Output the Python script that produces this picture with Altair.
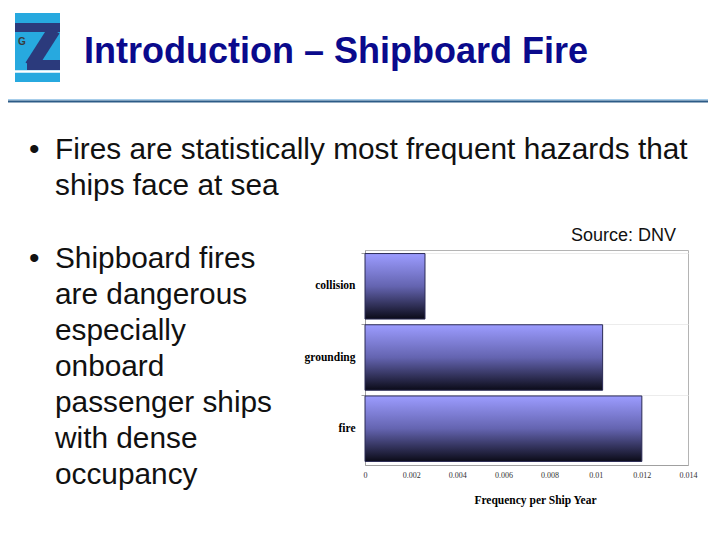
import altair as alt
import pandas as pd

# ---- data ----
categories = ["collision", "grounding", "fire"]
frequency = [0.0026, 0.0103, 0.0120]
x_ticks = [0, 0.002, 0.004, 0.006, 0.008, 0.010, 0.012, 0.014]

title_text = "Introduction \u2013 Shipboard Fire"
bullet1 = ["Fires are statistically most frequent hazards that", "ships face at sea"]
bullet2 = ["Shipboard fires", "are dangerous", "especially", "onboard",
           "passenger ships", "with dense", "occupancy"]
source_text = "Source: DNV"
axis_title = "Frequency per Ship Year"

# ---- layout (page pixels) ----
X0, Y0 = 365, 250          # plot origin on the page
PW, PH = 323, 215          # plot size
SANS = "Liberation Sans"
SERIF = "Liberation Serif"

df = pd.DataFrame({"category": categories, "frequency": frequency})


def px(x):
    return x - X0


def py(y):
    return y - Y0


def one():
    return alt.Data(values=[{"k": 0}])


def text_layer(txt, x, y, size, color="#111111", weight="normal", font=SANS):
    return alt.Chart(alt.Data(values=[{"t": txt}])).mark_text(
        font=font, fontSize=size, fontWeight=weight, color=color,
        align="left", baseline="alphabetic"
    ).encode(x=alt.value(px(x)), y=alt.value(py(y)), text="t:N")


def rect_layer(x1, y1, x2, y2, color):
    return alt.Chart(one()).mark_rect(color=color).encode(
        x=alt.value(px(x1)), x2=alt.value(px(x2)),
        y=alt.value(py(y1)), y2=alt.value(py(y2)))


def rule_layer(x1, y1, x2, y2, color, w):
    return alt.Chart(one()).mark_rule(color=color, strokeWidth=w).encode(
        x=alt.value(px(x1)), x2=alt.value(px(x2)),
        y=alt.value(py(y1)), y2=alt.value(py(y2)))


gradient = alt.Gradient(
    gradient="linear",
    stops=[alt.GradientStop(color="#9c9cff", offset=0),
           alt.GradientStop(color="#6464b0", offset=0.5),
           alt.GradientStop(color="#0b0b18", offset=1)],
    x1=0, x2=0, y1=0, y2=1,
)

bars = alt.Chart(df).mark_bar(fill=gradient, stroke="#2a2a55", strokeWidth=1).encode(
    x=alt.X("frequency:Q",
            scale=alt.Scale(domain=[0, 0.014], nice=False),
            axis=alt.Axis(values=x_ticks, format="~g", grid=False, ticks=False,
                          labelFlush=False, labelFont=SERIF, labelFontSize=8,
                          labelColor="#333333", labelPadding=6,
                          domainColor="#a0a0a0",
                          title=axis_title, titleFont=SERIF, titleFontSize=11.5,
                          titleFontWeight="bold", titleColor="#000000",
                          titleX=170, titleY=38, titleBaseline="alphabetic")),
    y=alt.Y("category:N", sort=categories, title=None,
            scale=alt.Scale(paddingInner=0.08, paddingOuter=0.05),
            axis=alt.Axis(bandPosition=0, grid=True, gridColor="#ececec",
                          tickSize=4, tickColor="#a0a0a0", domainColor="#a0a0a0",
                          labelFont=SERIF, labelFontWeight="bold", labelFontSize=11.5,
                          labelColor="#000000", labelPadding=6)),
)

layers = [bars]

# header rule
layers.append(rule_layer(0, 99.8, 720, 99.8, "#a6cdea", 1.5))
layers.append(rule_layer(0, 101.6, 720, 101.6, "#2c5b86", 2))

# logo
layers.append(rect_layer(15, 13, 60, 82, "#27a9df"))
layers.append(rect_layer(15, 23, 60, 32, "#2b3a7c"))
layers.append(rule_layer(54, 30, 31, 66, "#2b3a7c", 13))
layers.append(rect_layer(27, 60, 60, 70, "#2b3a7c"))
layers.append(rule_layer(15, 71.5, 60, 71.5, "#ffffff", 2.5))
layers.append(text_layer("G", 18, 45, 10, color="#3a3a3a", weight="bold"))

# title
layers.append(text_layer(title_text, 84, 63, 36, color="#0a0a8c", weight="bold"))

# bullets
layers.append(text_layer("\u2022", 29, 159, 30))
for i, line in enumerate(bullet1):
    layers.append(text_layer(line, 55, 159 + 36 * i, 29.8))
layers.append(text_layer("\u2022", 29, 268, 30))
for i, line in enumerate(bullet2):
    layers.append(text_layer(line, 55, 268 + 36 * i, 29.8))

# source
layers.append(text_layer(source_text, 571, 241, 18))

chart = alt.layer(*layers).properties(
    width=PW, height=PH,
    autosize=alt.AutoSizeParams(type="none"),
    padding={"left": X0 - 8, "top": Y0 - 8, "right": 20, "bottom": 60},
    background="#ffffff",
).configure_view(stroke="#b4b4b4")

chart.save("out.html", embed_options={"renderer": "svg", "actions": False})
